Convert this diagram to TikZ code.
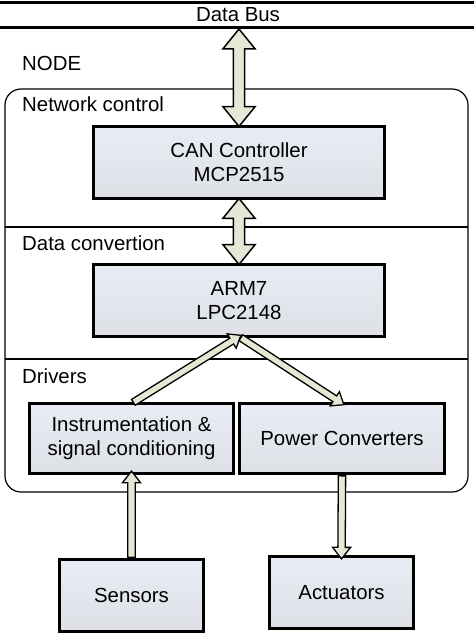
\documentclass[tikz,border=0pt]{standalone}
\usepackage{fontspec}
\setmainfont{Liberation Sans}
\usetikzlibrary{shapes.arrows,calc}
\definecolor{boxtop}{HTML}{E8ECF4}
\definecolor{boxbot}{HTML}{DEE0E6}
\definecolor{arrowfill}{HTML}{E6E8D6}
\begin{document}
\begin{tikzpicture}[x=1pt,y=-1pt,
  every node/.style={font=\fontsize{20.4}{24.4}\selectfont},
  blockbox/.style={draw=black, line width=3pt, top color=boxtop, bottom color=boxbot,
    align=center, inner sep=0pt, outer sep=0pt},
  seclabel/.style={anchor=base west, inner sep=0pt},
  bigarrow/.style={double arrow, draw=black, fill=arrowfill, line width=1.5pt,
    inner xsep=0pt, inner ysep=4.5pt, outer sep=0pt, double arrow head extend=10pt,
    double arrow tip angle=78, anchor=center},
  smallarrow/.style={single arrow, draw=black, fill=arrowfill, line width=1.3pt,
    inner xsep=0pt, inner ysep=2.8pt, outer sep=0pt, single arrow head extend=5pt,
    single arrow tip angle=76, anchor=center}
]
\useasboundingbox (0,0) rectangle (474,636);
% data bus
\draw[line width=3pt] (0,2.5) coordinate (busTL) -- (474,2.5);
\draw[line width=3pt] (0,27.5) coordinate (busBL) -- (474,27.5);
\node[anchor=base, inner sep=0pt] (bus) at (238,21.5) {Data Bus};
\coordinate (busdock) at (239,29);
% node frame
\node[seclabel] (nodelbl) at (22,70.5) {NODE};
\draw[line width=1.2pt, rounded corners=16pt] (5,89) rectangle (468,492);
\draw[line width=1.2pt] (5,227) -- (468,227);
\draw[line width=1.2pt] (5,359) -- (468,359);
\node[seclabel] (netlbl) at (22,112) {Network control};
\node[seclabel] (datlbl) at (22,250) {Data convertion};
\node[seclabel] (drvlbl) at (22,383) {Drivers};
% blocks
\node[blockbox, minimum width=291pt, minimum height=72pt] (can) at (239,162.5) {CAN Controller\\MCP2515};
\node[blockbox, minimum width=291pt, minimum height=72pt] (arm) at (239,300.5) {ARM7\\LPC2148};
\node[blockbox, minimum width=204pt, minimum height=70pt] (instr) at (131.5,438.5) {Instrumentation \&\\signal conditioning};
\node[blockbox, minimum width=205pt, minimum height=70pt] (power) at (342,438.5) {Power Converters};
\node[blockbox, minimum width=144pt, minimum height=72pt] (sens) at (131.5,595.5) {Sensors};
\node[blockbox, minimum width=144pt, minimum height=72pt] (act) at (341.5,592.5) {Actuators};
% arrows
\path let \p1=($(can.north)-(busdock)$), \n1={veclen(\x1,\y1)} in
  (busdock) -- (can.north) node[midway, sloped, allow upside down, bigarrow, minimum height=\n1, minimum width=32pt] {};
\path let \p1=($(arm.north)-(can.south)$), \n1={veclen(\x1,\y1)} in
  (can.south) -- (arm.north) node[midway, sloped, allow upside down, bigarrow, minimum height=\n1, minimum width=32pt] {};
\path let \p1=($(arm.south)-(instr.north)$), \n1={veclen(\x1,\y1)} in
  (instr.north) -- (arm.south) node[midway, sloped, allow upside down, smallarrow, minimum height=\n1, minimum width=15pt] {};
\path let \p1=($(power.north)-(arm.south)$), \n1={veclen(\x1,\y1)} in
  (arm.south) -- (power.north) node[midway, sloped, allow upside down, smallarrow, minimum height=\n1, minimum width=15pt] {};
\path let \p1=($(instr.south)-(sens.north)$), \n1={veclen(\x1,\y1)} in
  (sens.north) -- (instr.south) node[midway, sloped, allow upside down, smallarrow, minimum height=\n1, minimum width=18pt] {};
\path let \p1=($(act.north)-(power.south)$), \n1={veclen(\x1,\y1)} in
  (power.south) -- (act.north) node[midway, sloped, allow upside down, smallarrow, minimum height=\n1, minimum width=18pt] {};
\end{tikzpicture}
\end{document}
